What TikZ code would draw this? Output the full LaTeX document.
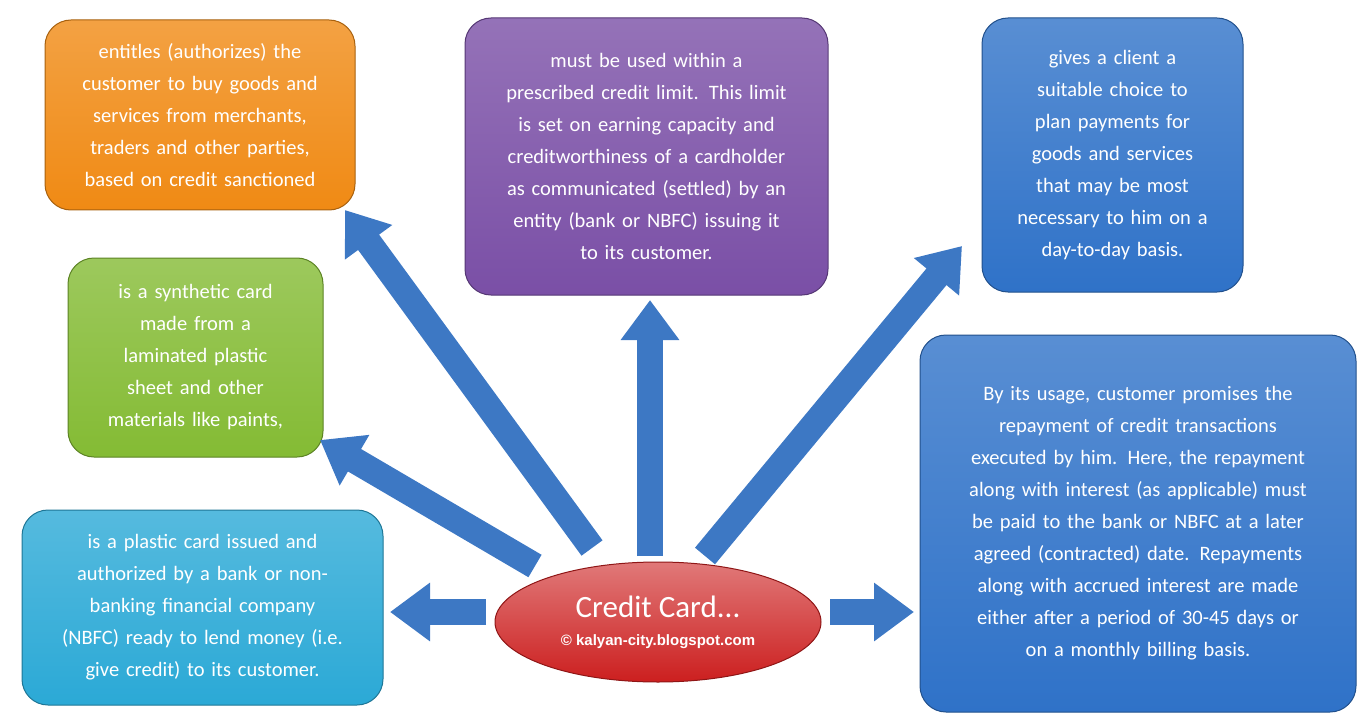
\documentclass[tikz,border=0pt]{standalone}
\usepackage{fontspec}
\setmainfont{Carlito}
\usetikzlibrary{arrows.meta,shapes.geometric}
\begin{document}
\begin{tikzpicture}[x=1pt,y=-1pt,
 box/.style={draw=#1!70!black,line width=1pt,rounded corners=26pt,top color=#1!80!white,bottom color=#1,text=white,align=center,font=\fontsize{20.5}{32}\selectfont,inner sep=0pt},
 barrow/.style={line width=26pt,draw=arrowblue,-{Triangle[width=56pt,length=40pt]}}]
\definecolor{orangeb}{HTML}{F08A14}
\definecolor{purpleb}{HTML}{7A4FA6}
\definecolor{blueb}{HTML}{2F72C8}
\definecolor{greenb}{HTML}{84BB34}
\definecolor{cyanb}{HTML}{2BA9D6}
\definecolor{redb}{HTML}{CC1F1F}
\definecolor{arrowblue}{HTML}{3D78C4}
\useasboundingbox (0,0) rectangle (1370,722);
\node[box=orangeb,minimum width=310pt,minimum height=190pt,text width=300pt] (o) at (200,115) {entitles (authorizes) the\\customer to buy goods and\\services from merchants,\\traders and other parties,\\based on credit sanctioned};
\node[box=purpleb,minimum width=363pt,minimum height=277pt,text width=355pt] (p) at (646.5,156.5) {must be used within a\\prescribed credit limit. This limit\\is set on earning capacity and\\creditworthiness of a cardholder\\as communicated (settled) by an\\entity (bank or NBFC) issuing it\\to its customer.};
\node[box=blueb,minimum width=261pt,minimum height=274pt,text width=255pt] (b1) at (1112.5,155) {gives a client a\\suitable choice to\\plan payments for\\goods and services\\that may be most\\necessary to him on a\\day-to-day basis.};
\node[box=greenb,minimum width=255pt,minimum height=199pt,text width=245pt] (g) at (195.5,357.5) {is a synthetic card\\made from a\\laminated plastic\\sheet and other\\materials like paints,};
\node[box=cyanb,minimum width=361pt,minimum height=195pt,text width=355pt] (c) at (202.5,607.5) {is a plastic card issued and\\authorized by a bank or non-\\banking financial company\\(NBFC) ready to lend money (i.e.\\give credit) to its customer.};
\node[box=blueb,minimum width=436pt,minimum height=377pt,text width=430pt] (b2) at (1138,523.5) {By its usage, customer promises the\\repayment of credit transactions\\executed by him. Here, the repayment\\along with interest (as applicable) must\\be paid to the bank or NBFC at a later\\agreed (contracted) date. Repayments\\along with accrued interest are made\\either after a period of 30-45 days or\\on a monthly billing basis.};
\node[ellipse,draw=redb!70!black,line width=1pt,top color=redb!60!white,bottom color=redb,minimum width=326pt,minimum height=120pt,text=white,align=center,inner sep=0pt,font=\fontsize{31}{30}\selectfont] (cc) at (658,622) {Credit Card...\\[-2pt]{\fontsize{15}{17}\selectfont\bfseries\fontspec{Liberation Sans}© kalyan-city.blogspot.com}};
\coordinate (s1) at (592,548); \coordinate (e1) at (345,210);
\coordinate (s2) at (535,566); \coordinate (e2) at (320,440);
\coordinate (s3) at (650,556); \coordinate (e3) at (650,300);
\coordinate (s4) at (705,556); \coordinate (e4) at (962,246);
\coordinate (s5) at (486,612); \coordinate (e5) at (390,612);
\coordinate (s6) at (830,612); \coordinate (e6) at (914,612);
\foreach \i in {1,...,6} \draw[barrow] (s\i) -- (e\i);
\end{tikzpicture}
\end{document}
